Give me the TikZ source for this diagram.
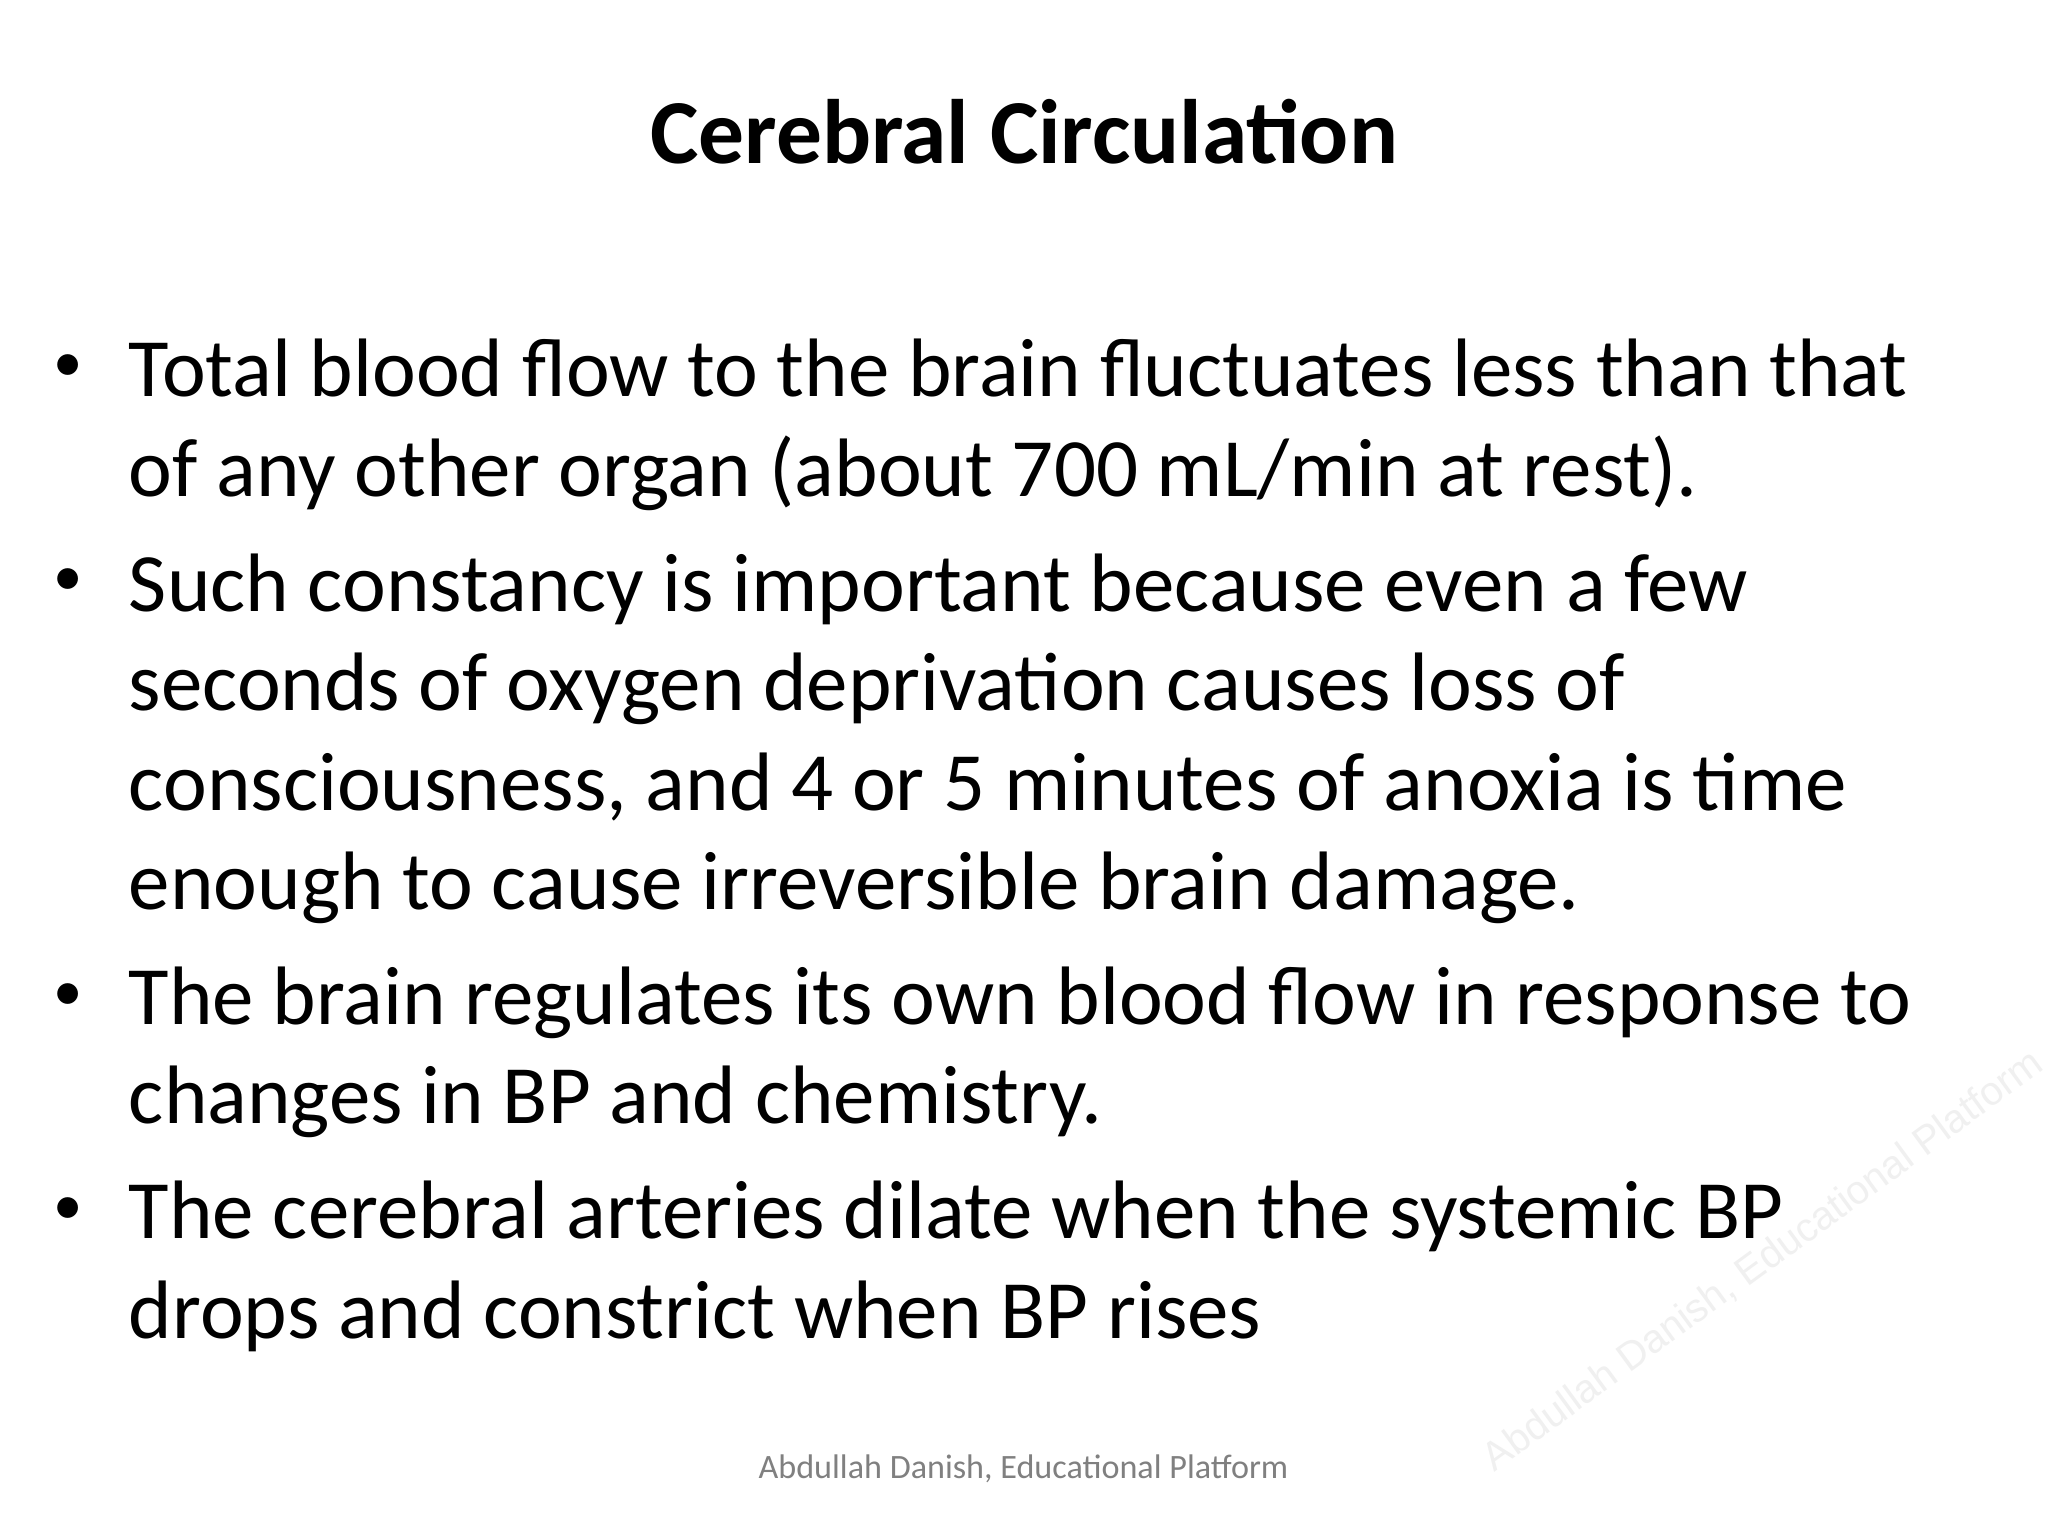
\documentclass[tikz,border=0pt]{standalone}
\usepackage{fontspec}
\setmainfont{Carlito}
\newfontfamily\wmfont{Liberation Sans}
\tikzset{
  body/.style={anchor=base west,inner sep=0pt,font=\fontsize{62.2}{62.2}\selectfont,text=black},
  bul/.style={anchor=center,inner sep=0pt,font=\fontsize{44}{44}\selectfont,text=black},
}
\begin{document}
\begin{tikzpicture}[x=0.75pt,y=-0.75pt]
\useasboundingbox (0,0) rectangle (2048,1536);
\fill[white] (0,0) rectangle (2048,1536);
\node[anchor=base,inner sep=0pt,font=\fontsize{68.6}{68.6}\selectfont\bfseries] (title) at (1024.3,163) {Cerebral Circulation};
\node[bul] (b1) at (68,368) {•};
\node[body] (l1) at (128.7,396.5) {Total blood flow to the brain fluctuates less than that};
\node[body] (l2) at (128.7,496.5) {of any other organ (about 700 mL/min at rest).};
\node[bul] (b2) at (68,582) {•};
\node[body] (l3) at (128.7,611) {Such constancy is important because even a few};
\node[body] (l4) at (128.7,710.5) {seconds of oxygen deprivation causes loss of};
\node[body] (l5) at (128.7,810) {consciousness, and 4 or 5 minutes of anoxia is time};
\node[body] (l6) at (128.7,909.5) {enough to cause irreversible brain damage.};
\node[bul] (b3) at (68,997) {•};
\node[body] (l7) at (128.7,1024) {The brain regulates its own blood flow in response to};
\node[body] (l8) at (128.7,1123.5) {changes in BP and chemistry.};
\node[bul] (b4) at (68,1211) {•};
\node[body] (l9) at (128.7,1238.5) {The cerebral arteries dilate when the systemic BP};
\node[body] (l10) at (128.7,1338) {drops and constrict when BP rises};
\node[anchor=base,inner sep=0pt,font=\fontsize{25.6}{25.6}\selectfont,text=black!50] (foot) at (1023.5,1478) {Abdullah Danish, Educational Platform};
\node[rotate=36.2,anchor=center,inner sep=0pt,font=\wmfont\fontsize{30}{30}\selectfont,text=black!6] (wm) at (1763,1261) {Abdullah Danish, Educational Platform};
\end{tikzpicture}
\end{document}
